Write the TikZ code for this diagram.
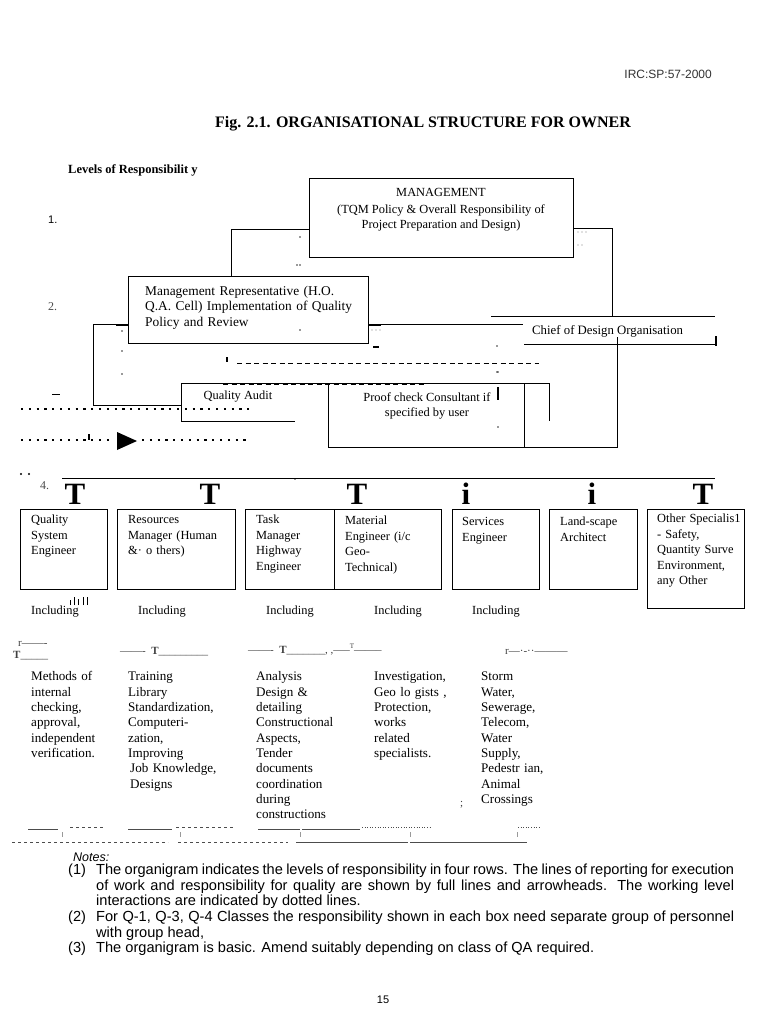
\documentclass[tikz,border=0pt]{standalone}
\usepackage{fontspec}
\setmainfont{Liberation Serif}
\newfontfamily\sansf{Liberation Sans}
\newcommand\bxf{\fontsize{12.4}{15.4}\selectfont}
\newcommand\colf{\fontsize{13.1}{15.3}\selectfont}
\begin{document}
\begin{tikzpicture}[x=1pt,y=-1pt,
  box/.style={draw, line width=0.8pt, inner sep=0, anchor=north west},
  txt/.style={font=\bxf, text width=150, align=left, anchor=north west, inner sep=0, execute at begin node=\strut},
  coltxt/.style={font=\colf, text width=150, align=left, anchor=north west, inner sep=0, execute at begin node=\strut},
  ctxt/.style={font=\bxf, align=center, inner sep=0},
  big/.style={font=\bfseries\fontsize{31}{31}\selectfont, inner sep=0},
  inc/.style={font=\bxf, anchor=west, inner sep=0},
  ln/.style={line width=0.8pt},
  dotline/.style={line width=2pt, dash pattern=on 2.2pt off 5.6pt},
  dashln/.style={line width=0.7pt, dash pattern=on 5pt off 3.5pt},
  noise/.style={font=\fontsize{11}{12}\selectfont, text=black!75, inner sep=0, anchor=west},
  speck/.style={fill=black!80}
]
\useasboundingbox (0,0) rectangle (768,1024);
\fill[white] (0,0) rectangle (768,1024);

% header
\node[anchor=east, font=\sansf\fontsize{12}{14}\selectfont, text=black!80, inner sep=0] (irc) at (712,74) {IRC:SP:57-2000};
\node[font=\bfseries\fontsize{16}{18}\selectfont, inner sep=0] (title) at (423,124) {Fig. 2.1. ORGANISATIONAL STRUCTURE FOR OWNER};
\node[anchor=west, font=\bfseries\fontsize{12.5}{14}\selectfont, inner sep=0] (levels) at (68,170) {Levels of Responsibilit y};
\node[anchor=west, font=\sansf\fontsize{11}{12}\selectfont, inner sep=0] (l1) at (48,220) {1.};
\node[anchor=west, font=\fontsize{12}{12}\selectfont, text=black!70, inner sep=0] (l2) at (48,307) {2.};
\node[anchor=west, font=\fontsize{12}{12}\selectfont, text=black!70, inner sep=0] (l4) at (40,486) {4.};

% level 1
\node[box, minimum width=264, minimum height=79] (mgmt) at (309,178) {};
\node[ctxt] (mgmtt) at (441,210) {MANAGEMENT\\[1pt](TQM Policy \& Overall Responsibility of\\Project Preparation and Design)};

% level 2
\node[box, minimum width=240, minimum height=67] (mr) at (128,276) {};
\node[txt, text width=230, font=\fontsize{13.4}{15.6}\selectfont] (mrt) at (145,284) {Management Representative (H.O.\\Q.A. Cell) Implementation of Quality\\Policy and Review};

\node[inc, font=\fontsize{12.8}{14}\selectfont] (chief) at (532,331) {Chief of Design Organisation};
\draw[ln] (491,316) -- (715,316);
\draw[ln] (524,344) -- (715,344);
\draw[line width=2pt] (716,336) -- (716,346);

% connectors level 1 -> 2
\draw[ln] (mgmt.west |- 0,229) -- (231,229) -- (mr.north -| 231,0);
\draw[ln] (mgmt.east |- 0,228) -- (612,228) -- (612,316);
\draw[ln] (mr.east |- 0,324) -- (523,324);
\draw[line width=2pt] (368,325) -- (381,325);
\draw[ln] (mr.west |- 0,324) -- (93,324) -- (93,405) -- (181,405);
\draw[line width=2pt] (116,325) -- (128,325);

% level 3
\node[ctxt] (qat) at (238,397) {Quality Audit};
\draw[ln] (181,383) -- (181,421);
\draw[ln] (181,383) -- (328,383);
\draw[ln] (181,421) -- (295,421);

\node[ctxt] (pct) at (427,406) {Proof check Consultant if\\specified by user};
\draw[ln] (328,383) -- (328,447);
\draw[ln] (328,383) -- (549,383);
\draw[ln] (524,383) -- (524,447);
\draw[ln] (549,383) -- (549,421);
\draw[ln] (chief.south -| 617,0) -- (617,447) -- (328,447);
\draw[line width=1.6pt] (498,387) -- (498,400);

% dashed interaction lines
\draw[dashln] (237,363) -- (539,363);
\draw[dashln] (223,384) -- (425,384);
\draw[line width=1.6pt] (227,357) -- (227,362);
\draw[line width=1.6pt] (373,347) -- (379,347);

% dotted lines with arrowhead
\draw[dotline] (21,409) -- (249,409);
\draw[dotline] (21,440) -- (114,440);
\draw[dotline] (142,440) -- (249,440);
\fill (117,432) -- (137,441) -- (117,450) -- cycle;
\draw[line width=1.4pt] (89,434) -- (89,440);
\fill (21,474) circle (1.2); \fill (29,474) circle (1.2);
\draw[line width=0.8pt] (52,394) -- (60,394);

% specks
\foreach \p in {(300,237),(300,265),(297,265),(122,331),(122,351),(122,374),(300,330),(497,346),(497,372),(498,372),(498,427),(295,479)}
  \fill[speck] \p circle (0.9);
\foreach \p in {(578,232),(582,232),(586,232),(578,245),(582,245),(372,330),(376,330),(380,330)}
  \fill[black!50] \p circle (0.6);

% level 4 bus
\draw[ln] (62,478) -- (715,478);
\node[big] (t1) at (75,494) {T};
\node[big] (t2) at (210,494) {T};
\node[big] (t3) at (357,494) {T};
\node[big] (t4) at (466,494) {i};
\node[big] (t5) at (592,494) {i};
\node[big] (t6) at (703,494) {T};

% level 4 boxes
\node[box, minimum width=87, minimum height=80] (qse) at (20,509) {};
\node[txt] at (31,513) {Quality\\System\\Engineer};
\node[box, minimum width=118, minimum height=80] (rm) at (117,509) {};
\node[txt] at (128,513) {Resources\\Manager (Human\\\&· o thers)};
\node[box, minimum width=89, minimum height=80] (tm) at (245,509) {};
\node[txt] at (256,513) {Task\\Manager\\Highway\\Engineer};
\node[box, minimum width=107, minimum height=80] (me) at (334,509) {};
\node[txt] at (345,514) {Material\\Engineer (i/c\\Geo-\\Technical)};
\node[box, minimum width=87, minimum height=80] (se) at (452,509) {};
\node[txt] at (462,515) {Services\\Engineer};
\node[box, minimum width=88, minimum height=80] (la) at (549,509) {};
\node[txt] at (560,515) {Land-scape\\Architect};
\node[box, minimum width=97, minimum height=99] (os) at (647,509) {};
\node[txt] at (657,512) {Other Specialis1\\- Safety,\\Quantity Surve\\Environment,\\any Other};

% including
\node[inc] (i1) at (31,612) {Including};
\node[inc] (i2) at (138,612) {Including};
\node[inc] (i3) at (266,612) {Including};
\node[inc] (i4) at (374,612) {Including};
\node[inc] (i5) at (472,612) {Including};
\foreach \x/\h in {70/5,74/8,78/6,83/8,87/8} \draw[line width=0.9pt] (\x,605) -- (\x,605-\h);

% noise row of broken connectors
\node[noise] at (18,644) {r-------};
\node[noise] at (13,656) {\textbf{T}\_\_\_\_\_};
\node[noise] at (120,652) {-------\ \ \textbf{T}\_\_\_\_\_\_\_\_\_};
\node[noise] at (248,650) {-------\ \ \textbf{T}\_\_\_\_\_\_\_, ,-----\raisebox{5pt}{\scriptsize T}--------};
\node[noise] at (505,652) {r---·-··---------};

% level 5 texts
\node[coltxt] (c1) at (31,670) {Methods of\\internal\\checking,\\approval,\\independent\\verification.};
\node[coltxt] (c2) at (128,670) {Training\\Library\\Standardization,\\Computeri-\\zation,\\Improving\\\hspace*{2pt}Job Knowledge,\\\hspace*{2pt}Designs};
\node[coltxt] (c3) at (256,670) {Analysis\\Design \&\\detailing\\Constructional\\Aspects,\\Tender\\documents\\coordination\\during\\constructions};
\node[coltxt] (c4) at (374,670) {Investigation,\\Geo lo gists ,\\Protection,\\works\\related\\specialists.};
\node[coltxt] (c5) at (481,670) {Storm\\Water,\\Sewerage,\\Telecom,\\Water\\Supply,\\Pedestr ian,\\Animal\\Crossings};
\node[noise] at (460,805) {;};

% bottom noise lines
\begin{scope}[black!70, line width=0.6pt]
\draw (28,829) -- (58,829);
\draw[dashed] (70,827) -- (104,827);
\draw (128,829) -- (172,829);
\draw[dashed] (176,827) -- (233,827);
\draw (258,829) -- (300,829);
\draw (302,829) -- (360,829);
\draw[dotted] (362,827) -- (430,827);
\draw[dotted] (518,827) -- (540,827);
\draw[dashed] (12,842) -- (168,842);
\draw[dashed] (178,842) -- (288,842);
\draw (296,842) -- (408,842);
\draw (410,842) -- (527,842);
\foreach \x in {62,180,300,410,517} \draw[black!40] (\x,832) -- (\x,837);
\end{scope}

% notes
\node[anchor=west, font=\sansf\itshape\fontsize{12.5}{14}\selectfont, inner sep=0] (notes) at (73,857) {Notes:};
\node[anchor=north west, inner sep=0, text width=666, align=justify, font=\sansf\fontsize{14.6}{15.6}\selectfont] (nt) at (68,864)
{\hangindent=28pt\hangafter=1\makebox[28pt][l]{(1)}The organigram indicates the levels of responsibility in four rows. The lines of reporting for execution of work and responsibility for quality are shown by full lines and arrowheads. The working level interactions are indicated by dotted lines.\par
\hangindent=28pt\hangafter=1\makebox[28pt][l]{(2)}For Q-1, Q-3, Q-4 Classes the responsibility shown in each box need separate group of personnel with group head,\par
\hangindent=28pt\hangafter=1\makebox[28pt][l]{(3)}The organigram is basic. Amend suitably depending on class of QA required.};
\node[font=\sansf\fontsize{11}{12}\selectfont, inner sep=0] (pg) at (383,1000) {15};
\end{tikzpicture}
\end{document}
